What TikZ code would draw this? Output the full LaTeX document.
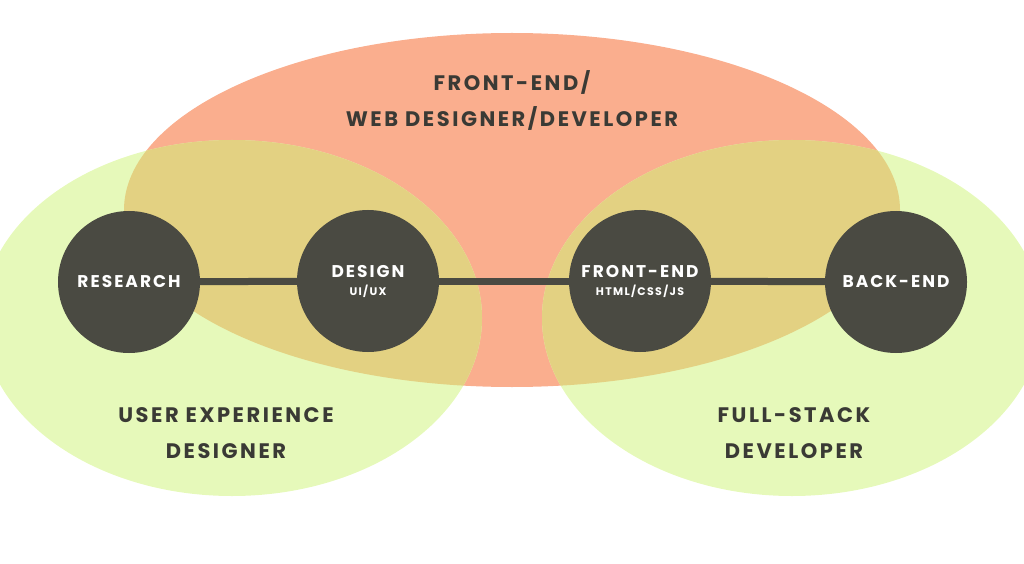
\documentclass[tikz,border=0pt]{standalone}
\usepackage{fontspec}
\setmainfont{Poppins}[LetterSpace=12]
\definecolor{orangeE}{HTML}{FAAE8E}
\definecolor{greenE}{HTML}{E6F9BA}
\definecolor{mixE}{HTML}{E3D182}
\definecolor{darkC}{HTML}{4A4A42}
\definecolor{txtC}{HTML}{3A3A35}
\tikzset{
  bubble/.style={circle,fill=darkC,minimum size=142pt,inner sep=0pt,text=white,font=\bfseries\fontsize{17}{20}\selectfont,align=center},
  link/.style={draw=darkC,line width=7pt},
  grouplabel/.style={text=txtC,font=\bfseries\fontsize{21}{36}\selectfont,align=center}
}
\begin{document}
\begin{tikzpicture}[x=1pt,y=1pt]
\useasboundingbox (0,0) rectangle (1024,563);
\begin{scope}
\clip (0,0) rectangle (1024,563);
\fill[orangeE] (512,353) ellipse [x radius=388,y radius=177];
\fill[greenE] (232,245) ellipse [x radius=250,y radius=178];
\fill[greenE] (792,245) ellipse [x radius=250,y radius=178];
\clip (512,353) ellipse [x radius=388,y radius=177];
\fill[mixE] (232,245) ellipse [x radius=250,y radius=178];
\fill[mixE] (792,245) ellipse [x radius=250,y radius=178];
\end{scope}
\node[bubble] (res) at (129,281) {RESEARCH};
\node[bubble] (des) at (368,282) {DESIGN\\[-2pt]{\fontsize{11}{13}\selectfont UI/UX}};
\node[bubble] (fe) at (640,282) {FRONT-END\\[-2pt]{\fontsize{11}{13}\selectfont HTML/CSS/JS}};
\node[bubble] (be) at (896,281) {BACK-END};
\draw[link] (res) -- (des);
\draw[link] (des) -- (fe);
\draw[link] (fe) -- (be);
\node[grouplabel] (t1) at (512,463) {FRONT-END/\\WEB DESIGNER/DEVELOPER};
\node[grouplabel] (t2) at (226,130) {USER EXPERIENCE\\DESIGNER};
\node[grouplabel] (t3) at (794,130) {FULL-STACK\\DEVELOPER};
\end{tikzpicture}
\end{document}
